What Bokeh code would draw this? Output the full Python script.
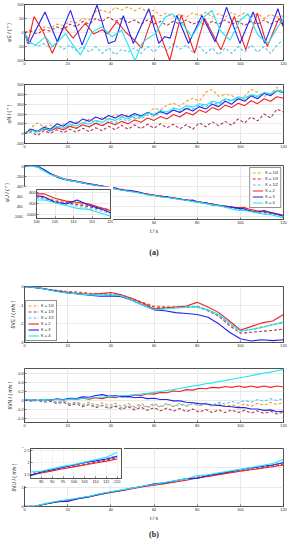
from bokeh.plotting import figure
from bokeh.layouts import column
from bokeh.models import Range1d, FixedTicker, Legend, LegendItem, Title
from bokeh.embed import file_html
from bokeh.resources import INLINE

# ---------------- series meta ----------------
SERIES = ["K = 1/4", "K = 1/3", "K = 1/2", "K = 2", "K = 3", "K = 4"]
COLORS = ["#F29B30", "#B5374F", "#55C3F0", "#F22222", "#2222EE", "#22E4EE"]
DASHES = ["3 2", "3 2", "3 2", "solid", "solid", "solid"]

# ---------------- time grids ----------------
T3S = [0, 3, 6, 9, 12, 15, 18, 21, 24, 27, 30, 33, 36, 39, 42, 45, 48, 51, 54, 57, 60,
       63, 66, 69, 72, 75, 78, 81, 84, 87, 90, 93, 96, 99, 102, 105, 108, 111, 114, 117, 120]
T5S = [0, 5, 10, 15, 20, 25, 30, 35, 40, 45, 50, 55, 60, 65, 70, 75, 80, 85, 90, 95, 100,
       105, 110, 115, 120]

# ---------------- (a) phi_E ----------------
PE_K14 = [0, 10, 5, 20, 15, 30, 25, 40, 35, 50, 45, 75, 80, 70, 90, 80, 92, 78, 88, 72, 80,
          60, 70, 55, 65, 55, 70, 60, 72, 55, 68, 55, 72, 58, 70, 55, 68, 50, 65, 55, 60]
PE_K13 = [0, 5, -5, 10, 5, 20, 10, 30, 20, 40, 30, 50, 40, 55, 40, 50, 35, 45, 30, 45, 30,
          40, 25, 40, 30, 45, 30, 40, 25, 40, 30, 45, 30, 40, 25, 40, 30, 45, 30, 40, 30]
PE_K12 = [0, -35, -50, -40, -55, -40, -60, -45, -65, -50, -70, -50, -75, -55, -80, -60, -70,
          -55, -75, -50, -70, -45, -65, -40, -60, -45, -70, -50, -75, -55, -80, -55, -75, -50,
          -70, -45, -70, -50, -75, -45, -25]
PE_K2_T = [0, 1.5, 4.4, 8.5, 12.9, 18.2, 22.5, 28.2, 32, 36, 38.5, 42.8, 47, 50, 54.3, 59.6,
           67.3, 72.6, 78.8, 83.4, 91, 97.2, 102.5, 107.9, 112.5, 117.9, 120]
PE_K2 = [0, -40, 57, 5, -74, 21, -20, 33, -5, 10, -5, 39, 0, -20, -56, 63, -100, 63, -74, 51,
         -62, 57, -62, 69, -50, 51, 21]
PE_K3_T = [0, 2, 9.5, 15.2, 21.3, 26.7, 33.6, 38.9, 42, 45.8, 50.4, 57.6, 62.2, 65, 67.5, 70.6,
           76, 82.2, 88.3, 93.6, 99.8, 105.9, 111.3, 117.4, 120]
PE_K3 = [0, -40, 73, -33, 79, -45, 98, -39, -30, 60, -39, 85, -39, -15, -20, 61, -39, 61, -33,
         90, -39, 73, -39, 85, 20]
PE_K4_T = [0, 1.4, 5.2, 9.8, 12.9, 15.9, 19, 22, 25.9, 31.3, 35.9, 40.5, 45, 51.2, 54.3, 56.1,
           60.7, 65.3, 68.4, 73, 77.6, 83, 86.8, 90.6, 95.2, 99.8, 103.6, 108.2, 112.8, 117.4, 120]
PE_K4 = [0, -33, -45, -15, -50, -30, -4, -40, -80, 2, 20, -15, 8, -101, -40, -27, -3, 55, 67,
         32, -15, 55, 79, 8, -27, 43, 67, -10, -39, 20, 50]

# ---------------- (a) phi_N ----------------
PN_K14 = [0, 60, 110, 70, 90, 55, 100, 70, 120, 95, 150, 110, 170, 140, 200, 170, 190, 150,
          170, 200, 260, 240, 290, 310, 280, 330, 360, 330, 420, 450, 380, 400, 390, 340, 380,
          450, 420, 380, 400, 470, 420]
PN_K13 = [0, 20, -20, 30, 5, 40, 10, 45, 15, 55, 20, 60, 30, 75, 40, 85, 45, 90, 50, 95, 55,
          100, 60, 95, 50, 90, 45, 110, 70, 120, 80, 125, 85, 150, 110, 170, 130, 200, 160,
          250, 220]
PN_K12 = [0, 30, 10, 45, 25, 60, 40, 75, 50, 90, 65, 110, 85, 130, 110, 150, 130, 170, 150,
          190, 175, 215, 200, 240, 225, 265, 250, 290, 275, 315, 300, 345, 330, 365, 350, 390,
          375, 410, 395, 430, 415]
PN_K2 = [0, 40, 20, 50, 30, 60, 40, 75, 55, 90, 70, 105, 80, 115, 90, 125, 100, 140, 115, 160,
         135, 175, 150, 195, 170, 215, 190, 240, 215, 265, 240, 290, 265, 310, 285, 335, 305,
         355, 330, 375, 360]
PN_K3 = [0, 45, 25, 65, 45, 100, 75, 125, 100, 150, 125, 170, 145, 185, 160, 195, 170, 205,
         180, 215, 190, 225, 200, 240, 215, 255, 230, 275, 250, 300, 275, 330, 300, 355, 330,
         385, 355, 410, 385, 440, 420]
PN_K4 = [0, 35, 20, 55, 35, 75, 55, 95, 75, 115, 95, 135, 115, 155, 135, 170, 150, 190, 170,
         210, 195, 235, 220, 260, 245, 285, 270, 305, 290, 330, 315, 355, 340, 375, 360, 395,
         380, 420, 405, 440, 425]

# ---------------- (a) phi_U ----------------
PU_K14 = [0, 5, 0, -75, -150, -195, -240, -265, -300, -315, -345, -360, -390, -410, -440, -455,
          -480, -495, -525, -545, -570, -585, -605, -620, -645, -660, -685, -700, -725, -745,
          -770, -785, -810, -835, -845, -870, -885, -900, -920, -940, -955]
PU_K13 = [0, 3, -5, -80, -155, -200, -245, -270, -300, -320, -350, -365, -395, -415, -445, -460,
          -485, -500, -530, -550, -575, -590, -610, -625, -650, -665, -690, -705, -730, -750,
          -775, -790, -815, -840, -855, -880, -895, -910, -930, -950, -965]
PU_K12 = [0, 5, -3, -80, -150, -205, -240, -275, -295, -325, -345, -370, -390, -420, -440, -465,
          -480, -505, -525, -555, -570, -595, -605, -630, -645, -670, -685, -710, -725, -755,
          -770, -795, -815, -845, -860, -890, -900, -925, -945, -965, -990]
PU_K2 = [0, 8, -5, -70, -145, -190, -245, -265, -300, -310, -350, -355, -395, -405, -445, -450,
         -485, -490, -530, -540, -575, -580, -610, -615, -650, -655, -690, -695, -730, -740,
         -775, -780, -810, -815, -815, -855, -880, -890, -905, -935, -965]
PU_K3 = [0, 10, 8, -60, -140, -210, -250, -280, -290, -330, -340, -375, -380, -420, -420, -470,
         -470, -490, -515, -560, -565, -600, -595, -635, -640, -675, -665, -715, -715, -760,
         -765, -800, -800, -830, -840, -890, -905, -870, -915, -945, -985]
PU_K4 = [0, 5, -5, -85, -160, -200, -245, -280, -300, -325, -355, -370, -400, -420, -445, -470,
         -490, -510, -530, -560, -575, -600, -615, -630, -655, -670, -695, -710, -735, -760,
         -775, -805, -840, -870, -870, -895, -920, -945, -955, -985, -1015]

# ---------------- (b) dV_E ----------------
VE_K14 = [0, -0.05, -0.12, -0.2, -0.27, -0.3, -0.35, -0.38, -0.4, -0.45, -0.65, -0.85, -1.05,
          -1.08, -1.1, -1.1, -1.05, -1.25, -1.55, -2.0, -2.4, -2.3, -2.15, -2.05, -1.95]
VE_K13 = [0, -0.05, -0.13, -0.22, -0.28, -0.32, -0.37, -0.4, -0.42, -0.47, -0.67, -0.88, -1.1,
          -1.12, -1.12, -1.1, -1.1, -1.3, -1.6, -2.1, -2.5, -2.45, -2.4, -2.35, -2.28]
VE_K12 = [0, -0.05, -0.14, -0.23, -0.3, -0.35, -0.4, -0.42, -0.43, -0.48, -0.7, -0.95, -1.2,
          -1.18, -1.15, -1.12, -1.1, -1.3, -1.55, -2.0, -2.4, -2.3, -2.2, -2.05, -1.88]
VE_K2 = [0, -0.05, -0.15, -0.25, -0.32, -0.38, -0.42, -0.38, -0.32, -0.45, -0.65, -0.9, -1.2,
         -1.15, -1.1, -1.05, -0.85, -1.1, -1.4, -1.85, -2.33, -2.15, -1.95, -1.85, -1.5]
VE_K3 = [0, -0.07, -0.15, -0.25, -0.35, -0.4, -0.47, -0.52, -0.5, -0.55, -0.75, -1.0, -1.25,
         -1.3, -1.4, -1.45, -1.5, -1.65, -2.0, -2.45, -2.8, -2.92, -2.85, -2.9, -2.85]
VE_K4 = [0, -0.05, -0.15, -0.27, -0.35, -0.4, -0.45, -0.45, -0.45, -0.5, -0.75, -1.0, -1.25,
         -1.2, -1.15, -1.1, -1.08, -1.25, -1.5, -1.95, -2.37, -2.3, -2.2, -2.05, -1.9]

# ---------------- (b) dV_N ----------------
VN_K14 = [0, -0.02, 0.01, -0.03, 0, -0.05, -0.02, -0.08, -0.04, -0.1, -0.05, -0.12, -0.06,
          -0.13, -0.07, -0.14, -0.08, -0.15, -0.08, -0.15, -0.08, -0.14, -0.07, -0.14, -0.07,
          -0.13, -0.06, -0.13, -0.07, -0.14, -0.08, -0.15, -0.1, -0.15, -0.09, -0.14, -0.07,
          -0.12, -0.05, -0.1, -0.05]
VN_K13 = [0, -0.03, -0.01, -0.05, -0.03, -0.08, -0.05, -0.12, -0.08, -0.15, -0.1, -0.17, -0.12,
          -0.19, -0.14, -0.21, -0.15, -0.22, -0.16, -0.23, -0.17, -0.24, -0.18, -0.25, -0.19,
          -0.26, -0.2, -0.27, -0.21, -0.28, -0.22, -0.28, -0.22, -0.28, -0.23, -0.29, -0.24,
          -0.3, -0.25, -0.31, -0.27]
VN_K12 = [0, -0.03, 0, -0.04, -0.01, -0.06, -0.03, -0.09, -0.06, -0.12, -0.09, -0.15, -0.11,
          -0.17, -0.12, -0.18, -0.12, -0.18, -0.12, -0.17, -0.11, -0.16, -0.1, -0.15, -0.09,
          -0.14, -0.08, -0.13, -0.07, -0.11, -0.05, -0.09, -0.03, -0.07, -0.01, -0.05, 0.01,
          -0.03, 0.03, -0.01, 0.03]
VN_K2 = [0, 0.01, -0.01, 0.01, 0, 0.02, 0, 0.03, 0.01, 0.04, 0.02, 0.05, 0.03, 0.07, 0.05,
         0.09, 0.07, 0.11, 0.1, 0.14, 0.13, 0.17, 0.16, 0.2, 0.19, 0.23, 0.22, 0.26, 0.25, 0.28,
         0.27, 0.3, 0.28, 0.31, 0.28, 0.31, 0.28, 0.31, 0.28, 0.31, 0.29]
VN_K3 = [0, 0.01, -0.01, 0.01, 0, 0.02, 0.01, 0.04, 0.03, 0.07, 0.06, 0.1, 0.12, 0.09, 0.1,
         0.07, 0.08, 0.05, 0.06, 0.03, 0.04, 0.01, 0.01, -0.02, -0.02, -0.05, -0.06, -0.08,
         -0.09, -0.11, -0.12, -0.14, -0.15, -0.17, -0.17, -0.2, -0.2, -0.23, -0.22, -0.26, -0.25]
VN_K4 = [0, 0.01, -0.01, 0.01, 0, 0.01, 0, 0.02, 0.02, 0.04, 0.04, 0.06, 0.06, 0.08, 0.08, 0.1,
         0.1, 0.12, 0.13, 0.15, 0.17, 0.19, 0.21, 0.23, 0.26, 0.28, 0.31, 0.33, 0.36, 0.38,
         0.41, 0.43, 0.46, 0.49, 0.51, 0.54, 0.57, 0.6, 0.62, 0.65, 0.68]

# ---------------- (b) dV_U ----------------
VU_K14 = [0, 0.02, 0.14, 0.25, 0.33, 0.42, 0.51, 0.64, 0.74, 0.84, 0.94, 1.04, 1.13, 1.2, 1.3,
          1.4, 1.5, 1.58, 1.68, 1.77, 1.85, 1.93, 2.01, 2.09, 2.18]
VU_K13 = [0, 0.02, 0.14, 0.25, 0.32, 0.41, 0.51, 0.63, 0.74, 0.84, 0.94, 1.04, 1.12, 1.2, 1.3,
          1.4, 1.5, 1.58, 1.67, 1.76, 1.85, 1.93, 2.01, 2.1, 2.2]
VU_K12 = [0, 0.02, 0.15, 0.26, 0.34, 0.43, 0.52, 0.65, 0.75, 0.85, 0.95, 1.05, 1.14, 1.22, 1.32,
          1.42, 1.54, 1.62, 1.71, 1.8, 1.89, 1.98, 2.07, 2.16, 2.3]
VU_K2 = [0, 0.02, 0.13, 0.24, 0.31, 0.4, 0.5, 0.62, 0.72, 0.82, 0.92, 1.02, 1.1, 1.18, 1.27,
         1.36, 1.48, 1.56, 1.65, 1.74, 1.82, 1.9, 1.98, 2.06, 2.15]
VU_K3 = [0, 0.01, 0.14, 0.25, 0.26, 0.42, 0.5, 0.64, 0.75, 0.84, 0.96, 1.05, 1.17, 1.22, 1.33,
         1.45, 1.45, 1.6, 1.7, 1.8, 1.9, 2.0, 2.07, 2.15, 2.26]
VU_K4 = [0, 0.02, 0.16, 0.27, 0.35, 0.44, 0.53, 0.66, 0.76, 0.86, 0.95, 1.06, 1.14, 1.24, 1.34,
         1.44, 1.6, 1.64, 1.74, 1.84, 1.92, 2.02, 2.12, 2.22, 2.43]

# ---------------- ticks ----------------
X_TICKS = [0, 20, 40, 60, 80, 100, 120]
Y1_TICKS = [-100, -50, 0, 50, 100]
Y2_TICKS = [-100, 0, 100, 200, 300, 400, 500]
Y3_TICKS = [-1000, -800, -600, -400, -200, 0]
Y4_TICKS = [-3, -2, -1, 0]
Y5_TICKS = [-0.4, -0.2, 0, 0.2, 0.4, 0.6]
Y5_LABELS = ["-0.4", "-0.2", "0", "0.2", "0.4", "0.6"]
Y6_TICKS = [0, 1, 2, 3]
INA_X = [100, 105, 110, 115, 120]
INA_Y = [-1000, -900, -800]
INB_X = [85, 90, 95, 100, 105, 110, 115, 120]
INB_Y = [1.5, 2, 2.5]
INB_YL = ["1.5", "2", "2.5"]

FONT = "Liberation Sans"
TXT = "#262626"
GRID = "#e3e3e3"
W = 289
TICK_FS = "3.8px"


def make(h, top, bottom, xr, yr, left=22, right=6, w=W, **kw):
    return figure(width=w, height=h, x_range=Range1d(*xr), y_range=Range1d(*yr),
                  output_backend="svg", toolbar_location=None,
                  min_border_left=left, min_border_right=right,
                  min_border_top=top, min_border_bottom=bottom,
                  background_fill_color="white", border_fill_color="white", **kw)


def style(p, xt, yt, xlab=None, ylab=None, ylabels=None, xlabels=None, grid_dash="solid"):
    p.outline_line_color = TXT
    p.outline_line_width = 0.8
    for ax in (p.xaxis[0], p.yaxis[0]):
        ax.axis_line_color = None
        ax.major_tick_in = 2
        ax.major_tick_out = 0
        ax.major_tick_line_color = TXT
        ax.major_tick_line_width = 0.6
        ax.minor_tick_line_color = None
        ax.major_label_text_font = FONT
        ax.major_label_text_font_size = TICK_FS
        ax.major_label_text_color = TXT
        ax.major_label_standoff = 1
        ax.axis_label_text_font = FONT
        ax.axis_label_text_font_size = "5px"
        ax.axis_label_text_font_style = "normal"
        ax.axis_label_text_color = TXT
        ax.axis_label_standoff = 1
    p.xaxis[0].ticker = FixedTicker(ticks=xt)
    p.yaxis[0].ticker = FixedTicker(ticks=yt)
    p.yaxis[0].major_label_overrides = {v: (ylabels[i] if ylabels else str(v)) for i, v in enumerate(yt)}
    p.xaxis[0].major_label_overrides = {v: (xlabels[i] if xlabels else str(v)) for i, v in enumerate(xt)}
    if xlab:
        p.xaxis[0].axis_label = xlab
    if ylab:
        p.yaxis[0].axis_label = ylab
    p.xgrid[0].ticker = FixedTicker(ticks=xt)
    p.ygrid[0].ticker = FixedTicker(ticks=yt)
    for g in (p.xgrid[0], p.ygrid[0]):
        g.grid_line_color = GRID
        g.grid_line_width = 0.8
        g.grid_line_dash = grid_dash


def draw(p, xs_list, ys_list, lw=1.1):
    rs = []
    for xs, ys, c, d in zip(xs_list, ys_list, COLORS, DASHES):
        rs.append(p.line(xs, ys, line_color=c, line_width=lw, line_dash=d))
    return rs


def legend(p, rs, loc, margin):
    leg = Legend(items=[LegendItem(label=s, renderers=[r]) for s, r in zip(SERIES, rs)],
                 location=loc, margin=margin, padding=2, spacing=1,
                 glyph_width=11, glyph_height=5, label_height=5, label_width=11,
                 label_standoff=2, label_text_font=FONT, label_text_font_size="4px",
                 label_text_color=TXT, border_line_color=TXT, border_line_width=0.8,
                 background_fill_color="white", background_fill_alpha=1.0)
    p.add_layout(leg)


XR = (0, 120)

# panel 1 : frame 4-60
p1 = make(82, 4, 22, XR, (-100, 100))
style(p1, X_TICKS, Y1_TICKS, ylab="φE / ( ″ )")
draw(p1, [T3S, T3S, T3S, PE_K2_T, PE_K3_T, PE_K4_T], [PE_K14, PE_K13, PE_K12, PE_K2, PE_K3, PE_K4])

# panel 2 : frame 84-143
p2 = make(81, 2, 20, XR, (-100, 500))
style(p2, X_TICKS, Y2_TICKS, ylab="φN / ( ″ )")
draw(p2, [T3S] * 6, [PN_K14, PN_K13, PN_K12, PN_K2, PN_K3, PN_K4])

# panel 3 : frame 165-219
PU_ALL = [PU_K14, PU_K13, PU_K12, PU_K2, PU_K3, PU_K4]
p3 = make(119, 2, 63, XR, (-1050, 20))
style(p3, X_TICKS, Y3_TICKS, xlab="t / s", ylab="φU / ( ″ )")
r3 = draw(p3, [T3S] * 6, PU_ALL)
legend(p3, r3, "top_right", 2)
p3.add_layout(Title(text="(a)", align="center", text_font="Liberation Serif",
                    text_font_size="8px", text_font_style="bold", text_color=TXT,
                    standoff=19), "below")

# inset a : frame x 35-110, y 189-218
ia = make(40, 3, 8, (100, 120), (-1036, -776), left=13, right=3, w=91,
          margin=(-96, 0, 56, 22), frame_align=False)
style(ia, INA_X, INA_Y)
draw(ia, [T3S] * 6, PU_ALL)

# panel 4 : frame 286-342
p4 = make(82, 4, 22, XR, (-3, 0))
style(p4, X_TICKS, Y4_TICKS, ylab="δVE / ( m/s )")
r4 = draw(p4, [T5S] * 6, [VE_K14, VE_K13, VE_K12, VE_K2, VE_K3, VE_K4])
legend(p4, r4, "bottom_left", 1)

# panel 5 : frame 368-422
p5 = make(80, 4, 22, XR, (-0.5, 0.7))
style(p5, X_TICKS, Y5_TICKS, ylab="δVN / ( m/s )", ylabels=Y5_LABELS)
draw(p5, [T3S] * 6, [VN_K14, VN_K13, VN_K12, VN_K2, VN_K3, VN_K4])

# panel 6 : frame 448-506
VU_ALL = [VU_K14, VU_K13, VU_K12, VU_K2, VU_K3, VU_K4]
p6 = make(102, 4, 40, XR, (0, 3))
style(p6, X_TICKS, Y6_TICKS, xlab="t / s", ylab="δVU / ( m/s )")
draw(p6, [T5S] * 6, VU_ALL)
p6.add_layout(Title(text="(b)", align="center", text_font="Liberation Serif",
                    text_font_size="8px", text_font_style="bold", text_color=TXT,
                    standoff=9), "below")

# inset b : frame x 30-121, y 448-478
ib = make(39, 1, 8, (80, 122), (1.33, 2.59), left=9, right=3, w=103,
          margin=(-99, 0, 60, 21), frame_align=False)
style(ib, INB_X, INB_Y, ylabels=INB_YL, grid_dash="1 1")
draw(ib, [T5S] * 6, VU_ALL)

layout = column(p1, p2, p3, ia, p4, p5, p6, ib, spacing=0)
open("out.html", "w").write(file_html(layout, INLINE))
